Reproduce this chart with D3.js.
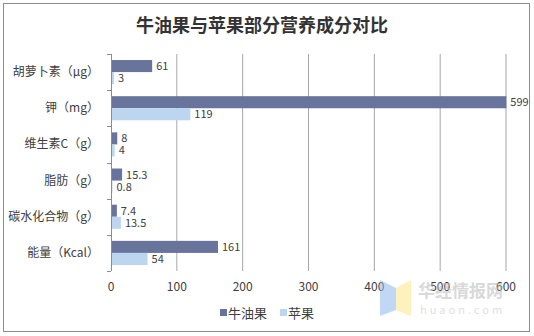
<!DOCTYPE html>
<html>
<head>
<meta charset="utf-8">
<script src="https://cdn.jsdelivr.net/npm/d3@7"></script>
<style>
  body { margin: 0; background: #fff; }
  text { font-family: "Noto Sans CJK SC", "Liberation Sans", sans-serif; }
</style>
</head>
<body>
<div id="chart"></div>
<script>
// 数据
const categories = ["胡萝卜素（μg）", "钾（mg）", "维生素C（g）", "脂肪（g）", "碳水化合物（g）", "能量（Kcal）"];
const avocado = [61, 599, 8, 15.3, 7.4, 161];
const apple = [3, 119, 4, 0.8, 13.5, 54];
const avocadoLabels = ["61", "599", "8", "15.3", "7.4", "161"];
const appleLabels = ["3", "119", "4", "0.8", "13.5", "54"];
const seriesNames = ["牛油果", "苹果"];
const xTicks = [0, 100, 200, 300, 400, 500, 600];

const width = 534, height = 336;
const colors = ["#68749b", "#bcd6ef"];
const margin = { left: 111, right: 28, top: 54, bottom: 65 };

const svg = d3.select("#chart").append("svg")
  .attr("width", width)
  .attr("height", height);

// 外框
svg.append("rect")
  .attr("x", 3.5).attr("y", 3.5)
  .attr("width", 526).attr("height", 328)
  .attr("fill", "#fff")
  .attr("stroke", "#8c8c8c");

svg.append("text")
  .attr("x", 262).attr("y", 32)
  .attr("text-anchor", "middle")
  .attr("font-size", 18).attr("font-weight", "bold")
  .attr("fill", "#333")
  .text("牛油果与苹果部分营养成分对比");

const x = d3.scaleLinear().domain([0, 600]).range([margin.left, 506]);
const y = d3.scaleBand().domain(categories).range([margin.top, height - margin.bottom]).paddingInner(1 / 3).paddingOuter(1 / 6);
const yBand = d3.scaleBand().domain(categories).range([margin.top, height - margin.bottom]);
const sub = d3.scaleBand().domain([0, 1]).range([0, y.bandwidth()]);

// 网格线
svg.append("g").selectAll("line")
  .data(xTicks.slice(1))
  .enter().append("line")
  .attr("x1", d => x(d)).attr("x2", d => x(d))
  .attr("y1", margin.top).attr("y2", height - margin.bottom)
  .attr("stroke", "#a6a6a6");

// x轴标签
svg.append("g").selectAll("text")
  .data(xTicks)
  .enter().append("text")
  .attr("x", d => x(d)).attr("y", 291)
  .attr("text-anchor", "middle")
  .attr("font-size", 12).attr("fill", "#404040")
  .text(d => d);

// y轴
const yAxis = svg.append("g");
yAxis.append("line")
  .attr("x1", x(0) + 0.5).attr("x2", x(0) + 0.5)
  .attr("y1", margin.top).attr("y2", height - margin.bottom)
  .attr("stroke", "#8c8c8c");
const bounds = categories.map(c => yBand(c)).concat([height - margin.bottom]);
yAxis.selectAll(".tk")
  .data(bounds)
  .enter().append("line")
  .attr("x1", x(0) - 4).attr("x2", x(0))
  .attr("y1", d => Math.round(d) + 0.5).attr("y2", d => Math.round(d) + 0.5)
  .attr("stroke", "#8c8c8c");
yAxis.selectAll("text")
  .data(categories)
  .enter().append("text")
  .attr("x", 99)
  .attr("y", d => yBand(d) + yBand.bandwidth() / 2 + 4)
  .attr("text-anchor", "end")
  .attr("font-size", 12).attr("fill", "#404040")
  .text(d => d);

// 柱子
[avocado, apple].forEach((vals, s) => {
  const labels = s === 0 ? avocadoLabels : appleLabels;
  const g = svg.append("g");
  g.selectAll("rect")
    .data(vals)
    .enter().append("rect")
    .attr("x", x(0) + 1)
    .attr("y", (d, i) => y(categories[i]) + sub(s))
    .attr("width", d => x(d) - x(0))
    .attr("height", sub.bandwidth())
    .attr("fill", colors[s]);
  g.selectAll("text")
    .data(vals)
    .enter().append("text")
    .attr("x", d => x(d) + 5)
    .attr("y", (d, i) => y(categories[i]) + sub(s) + sub.bandwidth() / 2 + 4)
    .attr("font-size", 11).attr("fill", "#404040")
    .text((d, i) => labels[i]);
});

// 图例
const legend = svg.append("g");
const legendX = [220, 280];
seriesNames.forEach((n, i) => {
  legend.append("rect")
    .attr("x", legendX[i]).attr("y", 309)
    .attr("width", 7).attr("height", 7)
    .attr("fill", colors[i]);
  legend.append("text")
    .attr("x", legendX[i] + 8).attr("y", 318)
    .attr("font-size", 13).attr("fill", "#404040")
    .text(n);
});

// 水印
const wm = svg.append("g").attr("opacity", 0.55);
wm.append("polygon").attr("points", "380,280 396,288 396,310 380,316").attr("fill", "#8fb8f0");
wm.append("polygon").attr("points", "396,288 411,280 411,316 396,310").attr("fill", "#fde68a");
wm.append("text").attr("x", 418).attr("y", 297)
  .attr("font-size", 17).attr("font-weight", "bold").attr("fill", "#bbb")
  .text("华经情报网");
wm.append("text").attr("x", 420).attr("y", 314)
  .attr("font-size", 11).attr("fill", "#c8c8c8").attr("letter-spacing", 3)
  .text("huaon.com");
</script>
</body>
</html>
